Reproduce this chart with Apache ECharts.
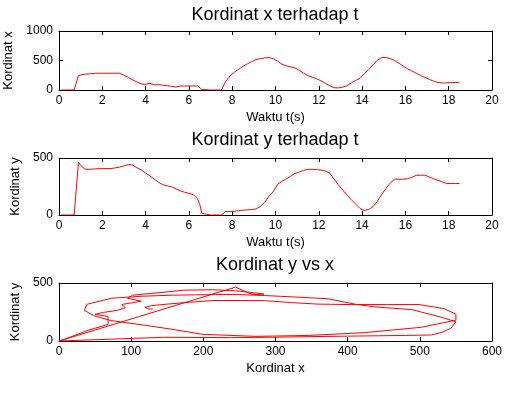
<!DOCTYPE html>
<html>
<head>
<meta charset="utf-8">
<script src="https://cdn.jsdelivr.net/npm/echarts@6/dist/echarts.min.js"></script>
<style>
  html, body { margin: 0; padding: 0; background: #fff; }
  #chart { width: 519px; height: 397px; }
</style>
</head>
<body>
<div id="chart"></div>
<script>
const waktu = [
  0.1, 0.7, 0.9, 1.0, 1.2, 1.4, 1.7, 2.0, 2.4, 2.8,
  3.0, 3.2, 3.4, 3.6, 3.8, 4.0, 4.2, 4.4, 4.6, 4.8,
  5.0, 5.2, 5.4, 5.6, 5.8, 6.0, 6.2, 6.4, 6.5, 6.6,
  7.0, 7.5, 7.7, 7.9, 8.1, 8.3, 8.5, 8.7, 8.9, 9.1,
  9.3, 9.5, 9.7, 9.9, 10.1, 10.3, 10.5, 10.7, 10.9, 11.1,
  11.3, 11.5, 11.7, 11.9, 12.1, 12.3, 12.5, 12.7, 12.9, 13.1,
  13.3, 13.5, 13.7, 13.9, 14.1, 14.3, 14.5, 14.7, 14.9, 15.1,
  15.3, 15.5, 15.7, 15.9, 16.1, 16.3, 16.5, 16.7, 16.9, 17.1,
  17.3, 17.5, 17.7, 17.9, 18.1, 18.3, 18.5
];
const kordinatX = [
  0, 0, 245, 255, 268, 274, 284, 284, 284, 284,
  250, 213, 173, 136, 102, 95, 114, 87, 92, 81,
  72, 62, 50, 68, 68, 68, 68, 68, 40, 8,
  0, 0, 145, 239, 302, 352, 401, 443, 480, 516,
  531, 543, 550, 530, 489, 436, 410, 392, 373, 334,
  285, 244, 217, 189, 157, 115, 73, 39, 35, 48,
  72, 120, 162, 198, 272, 346, 423, 502, 550, 550,
  533, 499, 455, 405, 359, 322, 285, 248, 213, 181,
  150, 128, 119, 121, 124, 127, 130
];
const kordinatY = [
  0, 0, 465, 435, 402, 400, 405, 407, 407, 420,
  430, 442, 438, 415, 395, 368, 343, 315, 287, 265,
  256, 247, 230, 212, 200, 190, 178, 143, 92, 15,
  0, 0, 32, 29, 33, 38, 42, 45, 48, 52,
  75, 110, 165, 205, 270, 295, 318, 340, 364, 377,
  392, 401, 400, 398, 395, 386, 369, 317, 265, 219,
  176, 135, 96, 58, 40, 48, 72, 118, 180, 232,
  280, 314, 314, 314, 318, 331, 348, 349, 349, 334,
  318, 305, 290, 276, 276, 276, 276
];

const judul = ["Kordinat x terhadap t", "Kordinat y terhadap t", "Kordinat y vs x"];
const labelX = ["Waktu t(s)", "Waktu t(s)", "Kordinat x"];
const labelY = ["Kordinat x", "Kordinat y", "Kordinat y"];
const batasX = [[0, 20, 2], [0, 20, 2], [0, 600, 100]];
const batasY = [[0, 1000, 500], [0, 500, 500], [0, 500, 500]];

const FONT = "'Liberation Sans', Arial, sans-serif";
const gridTop = [31, 158, 283];
const gridHeight = [59, 57, 58];
const titleTop = [6, 131, 256];
const yNameGap = [42, 35, 35];

const chart = echarts.init(document.getElementById("chart"));

const grid = [], xAxis = [], yAxis = [], title = [], series = [];
for (let i = 0; i < 3; i++) {
  grid.push({
    left: 59, right: 27, top: gridTop[i], height: gridHeight[i],
    containLabel: false, outerBoundsMode: "none"
  });
  title.push({
    text: judul[i], left: 275, top: titleTop[i], textAlign: "center", padding: 0,
    textStyle: { fontFamily: FONT, fontSize: 18, fontWeight: "normal", color: "#000" }
  });
  const line = { show: true, onZero: false, lineStyle: { color: "#000", width: 1 } };
  const tick = { show: true, inside: true, length: 4, lineStyle: { color: "#000" } };
  const lbl = { fontFamily: FONT, fontSize: 12, color: "#000", formatter: v => String(v) };
  xAxis.push({
    gridIndex: i, type: "value", position: "bottom",
    min: batasX[i][0], max: batasX[i][1], interval: batasX[i][2],
    name: labelX[i], nameLocation: "middle", nameGap: 21,
    nameTextStyle: { fontFamily: FONT, fontSize: 13, color: "#000" },
    axisLine: line, axisTick: tick, splitLine: { show: false },
    axisLabel: Object.assign({ margin: 5 }, lbl)
  });
  xAxis.push({
    gridIndex: i, type: "value", position: "top",
    min: batasX[i][0], max: batasX[i][1], interval: batasX[i][2],
    axisLine: line, axisTick: tick, splitLine: { show: false }, axisLabel: { show: false }
  });
  yAxis.push({
    gridIndex: i, type: "value", position: "left",
    min: batasY[i][0], max: batasY[i][1], interval: batasY[i][2],
    name: labelY[i], nameLocation: "middle", nameGap: yNameGap[i],
    nameTextStyle: { fontFamily: FONT, fontSize: 13, color: "#000" },
    axisLine: line, axisTick: tick, splitLine: { show: false },
    axisLabel: Object.assign({ margin: 6 }, lbl)
  });
  yAxis.push({
    gridIndex: i, type: "value", position: "right",
    min: batasY[i][0], max: batasY[i][1], interval: batasY[i][2],
    axisLine: line, axisTick: tick, splitLine: { show: false }, axisLabel: { show: false }
  });
}

const dataXT = waktu.map((t, k) => [t, kordinatX[k]]);
const dataYT = waktu.map((t, k) => [t, kordinatY[k]]);
const dataYX = kordinatX.map((x, k) => [x, kordinatY[k]]);
[dataXT, dataYT, dataYX].forEach((d, i) => {
  series.push({
    type: "line", xAxisIndex: i * 2, yAxisIndex: i * 2, data: d,
    showSymbol: false, lineStyle: { color: "#ff0000", width: 1 }, animation: false
  });
});

chart.setOption({ backgroundColor: "#fff", animation: false, title, grid, xAxis, yAxis, series });
</script>
</body>
</html>
